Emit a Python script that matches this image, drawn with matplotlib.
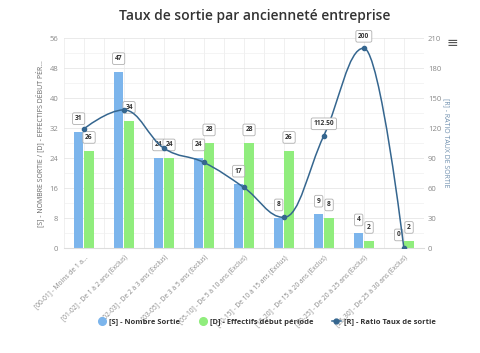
import numpy as np
import matplotlib.pyplot as plt
from matplotlib.path import Path
from matplotlib.patches import PathPatch
from matplotlib.lines import Line2D

plt.rcParams['font.family'] = ['Open Sans', 'DejaVu Sans']

# data
categories = ['[00-01] - Moins de 1 a...', '[01-02] - De 1 à 2 ans (Exclus)',
              '[02-03] - De 2 à 3 ans (Exclus)', '[03-05] - De 3 à 5 ans (Exclus)',
              '[05-10] - De 5 à 10 ans (Exclus)', '[10-15] - De 10 à 15 ans (Exclus)',
              '[15-20] - De 15 à 20 ans (Exclus)', '[20-25] - De 20 à 25 ans (Exclus)',
              '[25-30] - De 25 à 30 ans (Exclus)']
sorties = [31, 47, 24, 24, 17, 8, 9, 4, 0]
effectifs = [26, 34, 24, 28, 28, 26, 8, 2, 2]
ratio = [119.23, 138.24, 100, 85.71, 60.71, 30.77, 112.5, 200, 0]
ratio_labels = {6: '112.50', 7: '200'}

blue = '#7cb5ec'
green = '#90ed7d'
line_col = '#35668f'

fig = plt.figure(figsize=(4.8, 3.53), dpi=100)
ax = fig.add_axes([0.133, 0.297, 0.75, 0.595])
ax2 = ax.twinx()

x = np.arange(len(categories))
w = 0.24
ax.bar(x - 0.13, sorties, w, color=blue, zorder=2)
ax.bar(x + 0.13, effectifs, w, color=green, zorder=2)

box = dict(boxstyle='round,pad=0.35,rounding_size=0.25', fc='white', ec='#b0b0b0', lw=0.6)
for i in range(len(x)):
    ax.annotate(str(sorties[i]), (x[i] - 0.13, sorties[i]), xytext=(0, 7), textcoords='offset points',
                ha='center', va='bottom', fontsize=4.8, fontweight='bold', color='#333333', bbox=box, zorder=5)
    ax.annotate(str(effectifs[i]), (x[i] + 0.13, effectifs[i]), xytext=(0, 7), textcoords='offset points',
                ha='center', va='bottom', fontsize=4.8, fontweight='bold', color='#333333', bbox=box, zorder=5)

ax.set_xlim(-0.5, len(x) - 0.5)
ax.set_ylim(0, 56)
ax.set_yticks(np.arange(0, 57, 8))
ax.set_yticks(np.arange(0, 57, 4), minor=True)
ax2.set_ylim(0, 210)
ax2.set_yticks(np.arange(0, 211, 30))

# spline like highcharts
sm = 1.5
n = len(x)
verts = [(x[0], ratio[0])]
codes = [Path.MOVETO]
ctrl = []
for i in range(n):
    px, py = x[i], ratio[i]
    if 0 < i < n - 1:
        lx, ly = x[i - 1], ratio[i - 1]
        nx, ny = x[i + 1], ratio[i + 1]
        lcx = (sm * px + lx) / (sm + 1)
        lcy = (sm * py + ly) / (sm + 1)
        rcx = (sm * px + nx) / (sm + 1)
        rcy = (sm * py + ny) / (sm + 1)
        corr = (rcy - lcy) * (rcx - px) / (rcx - lcx) + py - rcy
        lcy += corr
        rcy += corr
        if lcy > ly and lcy > py:
            lcy = max(ly, py)
            rcy = 2 * py - lcy
        elif lcy < ly and lcy < py:
            lcy = min(ly, py)
            rcy = 2 * py - lcy
        if rcy > ny and rcy > py:
            rcy = max(ny, py)
            lcy = 2 * py - rcy
        elif rcy < ny and rcy < py:
            rcy = min(ny, py)
            lcy = 2 * py - rcy
        ctrl.append(((lcx, lcy), (rcx, rcy)))
    else:
        ctrl.append(((px, py), (px, py)))
for i in range(1, n):
    verts += [ctrl[i - 1][1], ctrl[i][0], (x[i], ratio[i])]
    codes += [Path.CURVE4] * 3
ax2.add_patch(PathPatch(Path(verts, codes), fc='none', ec=line_col, lw=1.1, zorder=4))
ax2.plot(x, ratio, 'o', color=line_col, ms=3, zorder=5)
for i, t in ratio_labels.items():
    ax2.annotate(t, (x[i], ratio[i]), xytext=(0, 6), textcoords='offset points',
                 ha='center', va='bottom', fontsize=4.8, fontweight='bold', color='#333333', bbox=box, zorder=6)

ax2.set_zorder(ax.get_zorder() + 1)
ax2.patch.set_visible(False)

# grid
ax.grid(True, which='major', axis='y', color='#e6e6e6', lw=0.6, zorder=0)
ax.grid(True, which='minor', axis='y', color='#f0f0f0', lw=0.5, zorder=0)
for b in np.arange(-0.5, n, 0.5):
    ax.axvline(b, color='#eeeeee', lw=0.6, zorder=0)

for a in (ax, ax2):
    for s in a.spines.values():
        s.set_visible(False)
    a.tick_params(length=0, labelsize=5.5, labelcolor='#888888', which='both')
ax.spines['bottom'].set_visible(True)
ax.spines['bottom'].set_color('#dddddd')

ax.set_xticks(x)
ax.set_xticklabels(categories, rotation=45, ha='right', rotation_mode='anchor', fontsize=4.8, color='#888888')
ax.tick_params(axis='x', pad=4)
ax.tick_params(axis='y', pad=4)
ax2.tick_params(axis='y', pad=3)

ax.set_ylabel('[S] - NOMBRE SORTIE / [D] - EFFECTIFS DÉBUT PÉR...', fontsize=5, color='#666666', labelpad=4)
ax2.set_ylabel('[R] - RATIO TAUX DE SORTIE', fontsize=5, color='#6f8fae', rotation=270, labelpad=6)

fig.text(0.53, 0.955, 'Taux de sortie par ancienneté entreprise', ha='center', va='center',
         fontsize=10, fontweight='semibold', color='#333333')
fig.text(0.942, 0.878, '≡', ha='center', va='center', fontsize=10, color='#555555', family='DejaVu Sans')

handles = [Line2D([], [], marker='o', ls='none', color=blue, ms=5.5),
           Line2D([], [], marker='o', ls='none', color=green, ms=5.5),
           Line2D([], [], marker='o', color=line_col, ms=3.5, lw=1.1)]
labels = ['[S] - Nombre Sortie', '[D] - Effectifs début période', '[R] - Ratio Taux de sortie']
fig.legend(handles, labels, loc='center', bbox_to_anchor=(0.555, 0.088), ncol=3, frameon=False,
           handlelength=1.2, handletextpad=0.4, columnspacing=2.4,
           prop={'weight': 'bold', 'size': 5.4})
for t in fig.legends[0].get_texts():
    t.set_color('#333333')

fig.savefig('out.png', dpi=100)
